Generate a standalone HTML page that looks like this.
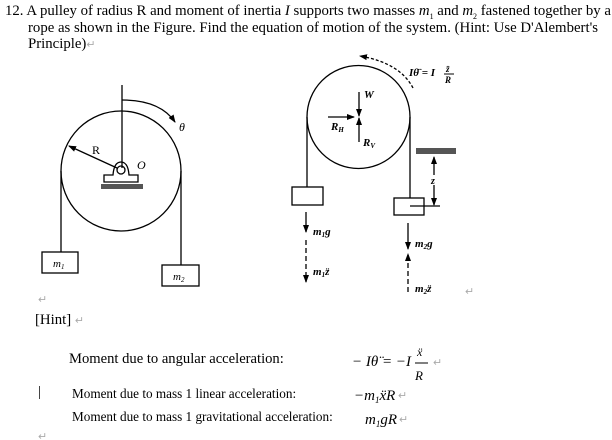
<!DOCTYPE html>
<html><head><style>
body{margin:0;background:#fff;width:612px;height:440px;overflow:hidden;position:relative;font-family:"Liberation Serif",serif;color:#000}
.t{position:absolute;font-size:14.8px;white-space:nowrap}
.g{color:#aaa;font-size:11px}
</style></head><body>
<div class="t" style="left:5px;top:3px">12. A pulley of radius R and moment of inertia <i>I</i> supports two masses <i>m</i><sub style="font-size:8px">1</sub> and <i>m</i><sub style="font-size:8px">2</sub> fastened together by a</div>
<div class="t" style="left:28px;top:20px">rope as shown in the Figure. Find the equation of motion of the system. (Hint: Use D'Alembert's</div>
<div class="t" style="left:28px;top:36px">Principle)<span class="g">↵</span></div>
<div class="t" style="left:35px;top:312px">[Hint] <span class="g">↵</span></div>
<div class="t" style="left:69px;top:351px;font-size:14.6px">Moment due to angular acceleration:</div>
<div class="t" style="left:72px;top:386px;font-size:13.2px">Moment due to mass 1 linear acceleration:</div>
<div class="t" style="left:72px;top:409px;font-size:13.2px">Moment due to mass 1 gravitational acceleration:</div>
<div class="t" style="left:38px;top:384px;font-size:15px">|</div>
<svg width="612" height="440" style="position:absolute;left:0;top:0" font-family="Liberation Serif,serif">
<defs><marker id="a" markerWidth="8" markerHeight="8" refX="7" refY="4" orient="auto" markerUnits="userSpaceOnUse"><path d="M0,1 L8,4 L0,7z" fill="#000"/></marker></defs>
<g stroke="#000" fill="none" stroke-width="1.3">
<circle cx="121" cy="171" r="60"/>
<line x1="61" y1="171" x2="61" y2="252"/><line x1="181" y1="171" x2="181" y2="265"/>
<rect x="42" y="252" width="36" height="21"/><rect x="162" y="265" width="37" height="21"/>
<line x1="122" y1="85" x2="122" y2="168"/>
<path d="M122,100 Q160,100 175,122" marker-end="url(#a)"/>
<line x1="117" y1="168" x2="69" y2="146" marker-end="url(#a)"/>
<path d="M104,182 L104,175 L113,175 Q114,162 121,162 Q128,162 129,175 L138,175 L138,182 Z"/>
<circle cx="121" cy="170" r="4"/>
</g>
<rect x="101" y="184" width="42" height="5" fill="#555"/>
<text x="92" y="154" font-size="12">R</text>
<text x="137" y="169" font-size="12" font-style="italic">O</text>
<text x="179" y="131" font-size="12" font-style="italic">θ</text>
<text x="53" y="267" font-size="11" font-style="italic">m<tspan font-size="7" dy="2">1</tspan></text>
<text x="173" y="280" font-size="11" font-style="italic">m<tspan font-size="7" dy="2">2</tspan></text>
<g stroke="#000" fill="none" stroke-width="1.3">
<circle cx="358.5" cy="117" r="51.5"/>
<line x1="307" y1="117" x2="307" y2="187"/><line x1="410" y1="117" x2="410" y2="198"/>
<rect x="292" y="187" width="31" height="18"/><rect x="394" y="198" width="30" height="17"/>
<line x1="410" y1="206" x2="440" y2="206"/>
<line x1="359" y1="92" x2="359" y2="116" marker-end="url(#a)"/>
<line x1="359" y1="142" x2="359" y2="118" marker-end="url(#a)"/>
<line x1="328" y1="117" x2="354" y2="117" marker-end="url(#a)"/>
<line x1="434" y1="175" x2="434" y2="157" marker-end="url(#a)"/>
<line x1="434" y1="185" x2="434" y2="205" marker-end="url(#a)"/>
<path d="M413,88 Q400,63 360,56" stroke-dasharray="3,2" marker-end="url(#a)"/>
<line x1="306" y1="212" x2="306" y2="232" marker-end="url(#a)"/>
<line x1="306" y1="240" x2="306" y2="282" stroke-dasharray="5,3" marker-end="url(#a)"/>
<line x1="408" y1="223" x2="408" y2="249" marker-end="url(#a)"/>
<line x1="408" y1="292" x2="408" y2="254" stroke-dasharray="5,3" marker-end="url(#a)"/>
</g>
<rect x="416" y="148" width="40" height="6" fill="#555"/>
<g font-size="11" font-style="italic" font-weight="bold">
<text x="364" y="98">W</text>
<text x="331" y="130">R<tspan font-size="7" dy="2">H</tspan></text>
<text x="363" y="146">R<tspan font-size="7" dy="2">V</tspan></text>
<text x="431" y="184" font-size="10">z</text>
<text x="313" y="235">m<tspan font-size="7" dy="2">1</tspan><tspan dy="-2">g</tspan></text>
<text x="313" y="275">m<tspan font-size="7" dy="2">1</tspan><tspan dy="-2">z̈</tspan></text>
<text x="415" y="247">m<tspan font-size="7" dy="2">2</tspan><tspan dy="-2">g</tspan></text>
<text x="415" y="292">m<tspan font-size="7" dy="2">2</tspan><tspan dy="-2">z̈</tspan></text>
<text x="409" y="76">Iθ̈ = I</text>
</g>
<text x="446" y="72" font-size="9" font-style="italic" font-weight="bold">z̈</text>
<line x1="444" y1="74" x2="454" y2="74" stroke="#000"/>
<text x="445" y="83" font-size="9" font-style="italic" font-weight="bold">R</text>
<text x="465" y="295" font-size="11" fill="#aaa">↵</text>
<text x="38" y="303" font-size="11" fill="#aaa">↵</text>
<g font-style="italic" font-size="15">
<text x="352" y="366">− Iθ̈ = −I</text>
<text x="417" y="356" font-size="12">ẍ</text>
<line x1="415" y1="363" x2="428" y2="363" stroke="#000"/>
<text x="415" y="380" font-size="13">R</text>
<text x="354" y="400">−m<tspan font-size="9" dy="3">1</tspan><tspan dy="-3">ẍR</tspan></text>
<text x="365" y="424">m<tspan font-size="9" dy="3">1</tspan><tspan dy="-3">gR</tspan></text>
</g>
<text x="433" y="366" font-size="11" fill="#aaa">↵</text>
<text x="398" y="399" font-size="11" fill="#aaa">↵</text>
<text x="399" y="423" font-size="11" fill="#aaa">↵</text>
<text x="38" y="440" font-size="11" fill="#aaa">↵</text>
</svg>
</body></html>
